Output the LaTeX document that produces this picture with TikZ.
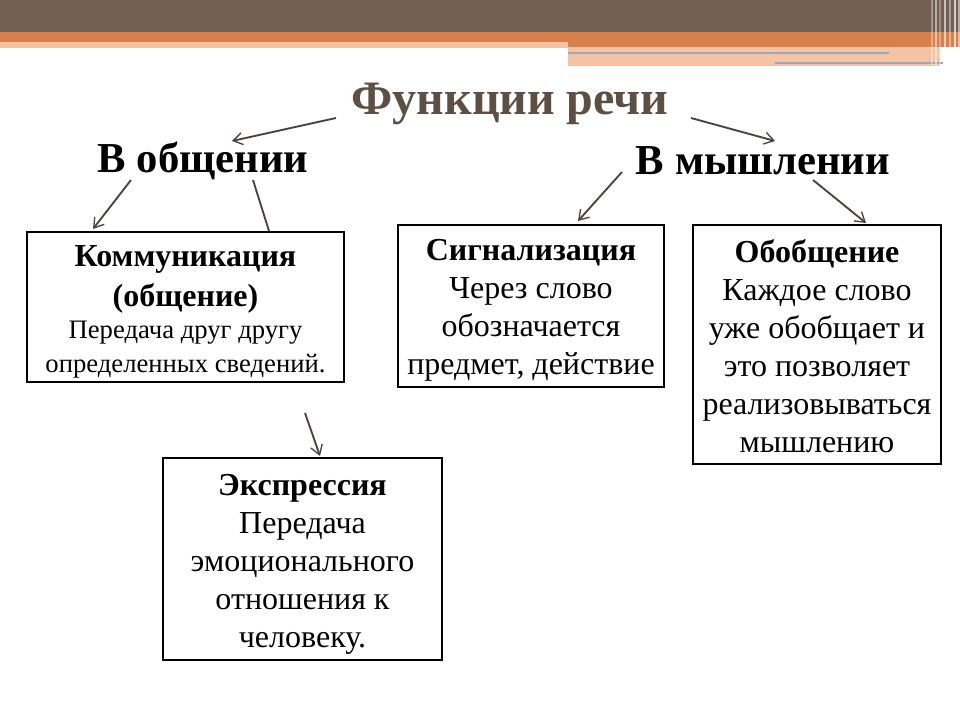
\documentclass[tikz,border=0pt]{standalone}
\usepackage{fontspec}
\setmainfont{Liberation Serif}
\usetikzlibrary{arrows.meta}
\definecolor{bandDark}{HTML}{736052}
\definecolor{bandOrange}{HTML}{D98049}
\definecolor{bandPeach}{HTML}{F3C3A4}
\definecolor{bandBlue}{HTML}{9AA8BC}
\definecolor{titleCol}{HTML}{5E4F45}
\definecolor{arrowCol}{HTML}{4A4440}
\tikzset{
  boxnode/.style={draw=black, line width=0.9pt, inner sep=0pt, fill=white},
  boxtext/.style={align=center, inner sep=0pt, font={\fontsize{24}{28.5}\selectfont}},
  headtext/.style={font=\fontsize{32}{36}\selectfont\bfseries, inner sep=0pt},
  arr/.style={draw=arrowCol, line width=1.4pt, -{Straight Barb[length=7pt,width=9pt,line width=1pt]}},
  plainline/.style={draw=arrowCol, line width=1.4pt},
}
\begin{document}
\begin{tikzpicture}[x=0.75pt,y=-0.75pt]
\useasboundingbox (0,0) rectangle (960,720);
\fill[white] (0,0) rectangle (960,720);
% top band
\fill[bandDark] (0,0) rectangle (960,32);
\fill[bandOrange] (0,32) rectangle (568,42);
\fill[bandOrange] (568,32) rectangle (960,47);
\fill[bandPeach] (0,42) rectangle (568,48);
\fill[bandPeach] (568,47) rectangle (940,66);
\fill[bandBlue] (568,52) rectangle (889,54.5);
\fill[bandBlue] (775,62) rectangle (943,64.5);
\foreach \xx/\op in {931/0.35,935/0.5,939/0.3,944/0.6,949/0.4,954/0.7,958/0.5}{
  \fill[white, opacity=\op] (\xx,0) rectangle (\xx+1.5,66);
}
% titles
\node[font=\fontsize{36}{40}\selectfont\bfseries, inner sep=0pt, text=titleCol] (title) at (510,104) {Функции речи};
\node[headtext] (obsh) at (203,161) {В общении};
\node[headtext] (mysh) at (763,161) {В мышлении};
% boxes
\node[boxnode, minimum width=237.75pt, minimum height=112.5pt] (komm) at (185.5,307) {};
\node[boxnode, minimum width=199.5pt, minimum height=121.5pt] (sign) at (531,306) {};
\node[boxnode, minimum width=186pt, minimum height=179.25pt] (obob) at (817,344.5) {};
\node[boxnode, minimum width=209.25pt, minimum height=151.5pt] (expr) at (302.5,559) {};
% box texts
\node[boxtext, font={\fontsize{20}{25}\selectfont}] (kommtext) at (185.5,312)
  {{\fontsize{24}{29}\selectfont\bfseries Коммуникация}\\[4.5pt]
   {\fontsize{24}{29}\selectfont\bfseries (общение)}\\[-0.5pt]
   Передача друг другу\\
   определенных сведений.};
\node[boxtext] (signtext) at (531,310)
  {\textbf{Сигнализация}\\
   Через слово\\
   обозначается\\
   предмет, действие};
\node[boxtext] (obobtext) at (817,346)
  {\textbf{Обобщение}\\
   Каждое слово\\
   уже обобщает и\\
   это позволяет\\
   реализовываться\\
   мышлению};
\node[boxtext] (exprtext) at (302.5,564)
  {\textbf{Экспрессия}\\
   Передача\\
   эмоционального\\
   отношения к\\
   человеку.};
% arrow end points
\coordinate (a1s) at (336,118);
\coordinate (a1e) at (232,141);
\coordinate (a2s) at (691,118);
\coordinate (a2e) at (775,141);
\coordinate (a3s) at (131,180);
\coordinate (a3e) at (93,229);
\coordinate (a4s) at (253,180);
\coordinate (a4e) at (269,231);
\coordinate (a5s) at (622,172);
\coordinate (a5e) at (578,221);
\coordinate (a6s) at (813,180);
\coordinate (a6e) at (866,223);
\coordinate (a7s) at (305,413);
\coordinate (a7e) at (320,456);
\draw[arr] (a1s) -- (a1e);
\draw[arr] (a2s) -- (a2e);
\draw[arr] (a3s) -- (a3e);
\draw[plainline] (a4s) -- (a4e);
\draw[arr] (a5s) -- (a5e);
\draw[arr] (a6s) -- (a6e);
\draw[arr] (a7s) -- (a7e);
\end{tikzpicture}
\end{document}
